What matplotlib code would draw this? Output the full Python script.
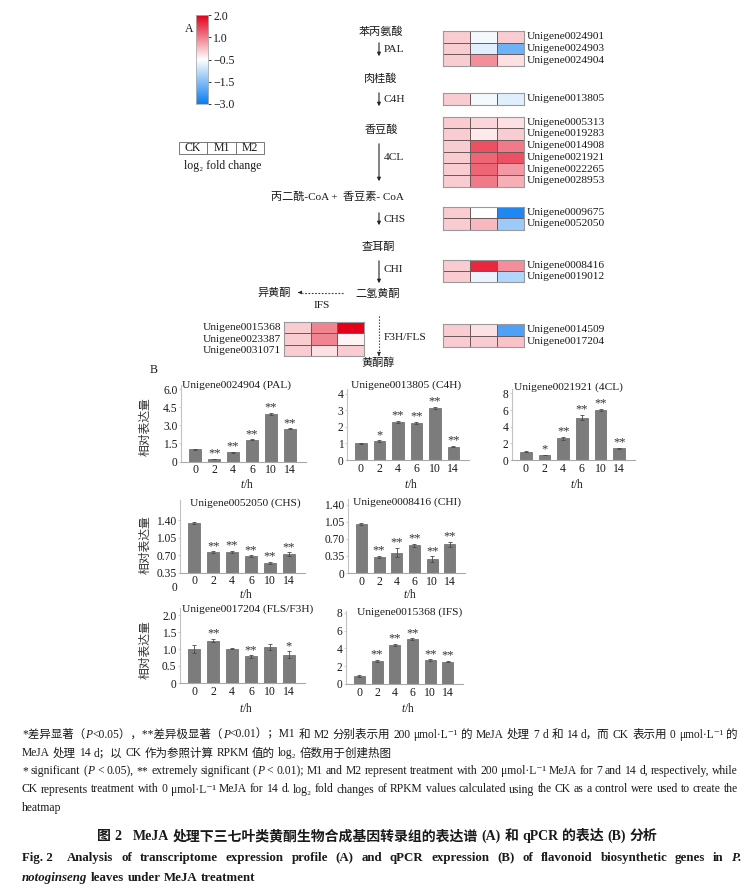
import numpy as np
import matplotlib
matplotlib.use('Agg')
import matplotlib.pyplot as plt
from matplotlib.colors import LinearSegmentedColormap, Normalize
from matplotlib.patches import Rectangle

FAM = ['Liberation Serif', 'DejaVu Serif', 'Noto Sans CJK SC']
plt.rcParams['font.family'] = FAM
plt.rcParams['mathtext.fontset'] = 'custom'
plt.rcParams['mathtext.rm'] = 'Liberation Serif'
plt.rcParams['mathtext.it'] = 'Liberation Serif:italic'
plt.rcParams['text.color'] = '#1a1a1a'
plt.rcParams['xtick.color'] = '#1a1a1a'
plt.rcParams['ytick.color'] = '#1a1a1a'

W, H = 754, 892

# ---------------- data: heatmap (log2 fold change vs CK) ----------------
samples = ['CK', 'M1', 'M2']
pal_genes = ['Unigene0024901', 'Unigene0024903', 'Unigene0024904']
pal_fc = [[0, -0.6, 0.0], [0, -0.8, -2.0], [0, 0.6, -0.2]]
c4h_genes = ['Unigene0013805']
c4h_fc = [[0, -0.6, -0.8]]
cl4_genes = ['Unigene0005313', 'Unigene0019283', 'Unigene0014908',
             'Unigene0021921', 'Unigene0022265', 'Unigene0028953']
cl4_fc = [[0, -0.1, -0.2], [0, -0.3, 0.0], [0, 1.2, 0.8],
          [0, 1.0, 1.2], [0, 1.0, 0.5], [0, 0.8, 0.3]]
chs_genes = ['Unigene0009675', 'Unigene0052050']
chs_fc = [[0, -0.5, -2.8], [0, 0.2, -1.5]]
chi_genes = ['Unigene0008416', 'Unigene0019012']
chi_fc = [[0, 1.6, 0.6], [0, -0.7, -1.3]]
fls_genes = ['Unigene0014509', 'Unigene0017204']
fls_fc = [[0, -0.2, -2.3], [0, 0.0, 0.1]]
ifs_genes = ['Unigene0015368', 'Unigene0023387', 'Unigene0031071']
ifs_fc = [[0, 0.7, 2.0], [0, 0.7, -0.4], [0, -0.2, 0.0]]

cbar_pos = [2, 0.75, -0.5, -1.75, -3]
cbar_lab = ['2.0', '1.0', '\u22120.5', '\u22121.5', '\u22123.0']

# ---------------- data: qPCR relative expression ----------------
hours = ['0', '2', '4', '6', '10', '14']
pal_q = [1.0, 0.2, 0.75, 1.8, 3.95, 2.7]
pal_e = [0.03, 0.03, 0.04, 0.05, 0.06, 0.05]
pal_s = ['', '**', '**', '**', '**', '**']
c4h_q = [1.0, 1.15, 2.3, 2.25, 3.15, 0.8]
c4h_e = [0.03, 0.04, 0.05, 0.06, 0.05, 0.04]
c4h_s = ['', '*', '**', '**', '**', '**']
cl4_q = [1.0, 0.6, 2.6, 5.1, 6.0, 1.4]
cl4_e = [0.05, 0.05, 0.2, 0.3, 0.15, 0.06]
cl4_s = ['', '*', '**', '**', '**', '**']
chs_q = [0.99, 0.41, 0.42, 0.33, 0.2, 0.37]
chs_e = [0.02, 0.02, 0.02, 0.02, 0.02, 0.04]
chs_s = ['', '**', '**', '**', '**', '**']
chi_q = [1.0, 0.33, 0.42, 0.57, 0.28, 0.59]
chi_e = [0.02, 0.02, 0.1, 0.03, 0.06, 0.05]
chi_s = ['', '**', '**', '**', '**', '**']
fls_q = [1.0, 1.25, 1.01, 0.78, 1.06, 0.83]
fls_e = [0.12, 0.05, 0.02, 0.03, 0.08, 0.1]
fls_s = ['', '**', '', '**', '', '*']
ifs_q = [0.9, 2.6, 4.4, 5.05, 2.7, 2.5]
ifs_e = [0.06, 0.1, 0.1, 0.08, 0.08, 0.08]
ifs_s = ['', '**', '**', '**', '**', '**']

# tick sets as printed in the figure
pal_ticks = ([0, 1.5, 3.0, 4.5, 6.0], ['0', '1.5', '3.0', '4.5', '6.0'])
c4h_ticks = ([0, 1, 2, 3, 4], ['0', '1', '2', '3', '4'])
cl4_ticks = ([0, 2, 4, 6, 8], ['0', '2', '4', '6', '8'])
chs_ticks = ([0, 0.35, 0.7, 1.05], ['0.35', '0.70', '1.05', '1.40'])
chi_ticks = ([0, 0.35, 0.7, 1.05, 1.4], ['0', '0.35', '0.70', '1.05', '1.40'])
fls_ticks = ([0, 0.5, 1.0, 1.5, 2.0], ['0', '0.5', '1.0', '1.5', '2.0'])
ifs_ticks = ([0, 2, 4, 6, 8], ['0', '2', '4', '6', '8'])

cmap = LinearSegmentedColormap.from_list('rb', ['#0a7ef2', '#ffffff', '#e3001b'])
norm = Normalize(-3, 2)

fig = plt.figure(figsize=(W / 100, H / 100), dpi=100)


def rect(x0, y0, x1, y1):
    return [x0 / W, 1 - y1 / H, (x1 - x0) / W, (y1 - y0) / H]


ov = fig.add_axes([0, 0, 1, 1], zorder=5)
ov.set_xlim(0, W)
ov.set_ylim(H, 0)
ov.axis('off')
ov.patch.set_alpha(0)


def heat(box, fc, genes, side='right'):
    ax = fig.add_axes(rect(*box))
    ax.pcolormesh(np.array(fc), cmap=cmap, norm=norm, edgecolors='#6e5a5a', linewidth=0.6)
    ax.set_ylim(len(fc), 0)
    ax.set_xticks([])
    ax.set_yticks([])
    for sp in ax.spines.values():
        sp.set_color('#9a9a9a')
        sp.set_linewidth(0.8)
    x0, y0, x1, y1 = box
    rh = (y1 - y0) / len(genes)
    for i, g in enumerate(genes):
        if side == 'right':
            ov.text(x1 + 3, y0 + rh * (i + 0.5), g, fontsize=8.2, ha='left', va='center')
        else:
            ov.text(x0 - 3, y0 + rh * (i + 0.5), g, fontsize=8.2, ha='right', va='center')


heat((443, 31, 524, 66), pal_fc, pal_genes)
heat((443, 93, 524, 104.5), c4h_fc, c4h_genes)
heat((443, 116.5, 524, 186.5), cl4_fc, cl4_genes)
heat((443, 207, 524, 229.5), chs_fc, chs_genes)
heat((443, 260, 524, 282), chi_fc, chi_genes)
heat((443, 324, 524, 347), fls_fc, fls_genes)
heat((284, 322, 364, 356), ifs_fc, ifs_genes, side='left')

# colour bar
cax = fig.add_axes(rect(195.7, 15, 208.3, 104))
grad = np.linspace(2, -3, 200).reshape(-1, 1)
cax.imshow(grad, cmap=cmap, norm=norm, aspect='auto', extent=(0, 1, -3, 2))
cax.set_xticks([])
cax.yaxis.tick_right()
cax.set_yticks(cbar_pos, cbar_lab, fontsize=8.5)
cax.tick_params(axis='y', length=2.5, width=0.6, pad=1)
for sp in cax.spines.values():
    sp.set_color('#b0b0b0')
    sp.set_linewidth(0.6)
ov.text(189, 29, 'A', fontsize=8.5, ha='center', va='center')

# CK / M1 / M2 legend box
for i, s in enumerate(samples):
    ov.add_patch(Rectangle((179 + 28.3 * i, 142), 28.3, 12, fill=False, ec='#777777', lw=0.7))
    ov.text(179 + 28.3 * (i + 0.5), 148.3, s, fontsize=8.5, ha='center', va='center')
ov.text(223, 166, 'log\u2082 fold change', fontsize=8.5, ha='center', va='center')

# pathway
AX = 379
compounds = [('苯丙氨酸', 381, 32), ('肉桂酸', 381, 79), ('香豆酸', 381, 130),
             ('丙二酰-CoA +  香豆素- CoA', 337, 197), ('查耳酮', 378, 247),
             ('二氢黄酮', 378, 294), ('异黄酮', 274, 293), ('黄酮醇', 378, 363)]
for t, x, y in compounds:
    ov.text(x, y, t, fontsize=8, ha='center', va='center')

enz = [('PAL', 40, 59, 50), ('C4H', 90, 109, 99), ('4CL', 141, 184, 157),
       ('CHS', 210, 228, 219), ('CHI', 258, 286, 270)]
for name, ya, yb, yt in enz:
    ov.annotate('', xy=(AX, yb), xytext=(AX, ya),
                arrowprops=dict(arrowstyle='-|>', lw=0.8, color='#222222', mutation_scale=5))
    ov.text(AX + 5, yt, name, fontsize=8.2, ha='left', va='center')

ov.plot([343, 302], [292.5, 292.5], ls=(0, (1.5, 1.5)), lw=0.8, color='#333333')
ov.annotate('', xy=(298, 292.5), xytext=(302, 292.5),
            arrowprops=dict(arrowstyle='-|>', lw=0.6, color='#222222', mutation_scale=5))
ov.text(322, 306, 'IFS', fontsize=8.2, ha='center', va='center')
ov.plot([AX, AX], [316, 352], ls=(0, (1.2, 1.5)), lw=0.8, color='#333333')
ov.annotate('', xy=(AX, 356), xytext=(AX, 352),
            arrowprops=dict(arrowstyle='-|>', lw=0.6, color='#222222', mutation_scale=5))
ov.text(AX + 5, 337, 'F3H/FLS', fontsize=8.2, ha='left', va='center')

# ---------------- qPCR bars ----------------
ov.text(154, 370, 'B', fontsize=8.5, ha='center', va='center')


def bar_panel(box, ylim, vals, errs, stars, ticks, title, txy, xl_y):
    ax = fig.add_axes(rect(*box))
    x = np.arange(len(hours))
    ax.bar(x, vals, width=0.62, color='#7c7c7c', edgecolor='#666666', linewidth=0.5,
           yerr=errs, error_kw=dict(ecolor='#4a4a4a', elinewidth=0.6, capsize=1.5, capthick=0.6))
    for xi, v, e, s in zip(x, vals, errs, stars):
        if s:
            ax.annotate(s, (xi, v + e), xytext=(0, -0.5), textcoords='offset points',
                        ha='center', va='bottom', fontsize=9, color='#333333')
    ax.set_xlim(-0.75, 5.85)
    ax.set_ylim(*ylim)
    ax.set_xticks(x, hours, fontsize=8.5)
    ax.set_yticks(ticks[0], ticks[1], fontsize=8.3)
    ax.tick_params(axis='x', length=0, pad=2)
    ax.tick_params(axis='y', length=1.5, width=0.5, pad=1, color='#bbbbbb')
    ax.patch.set_alpha(0)
    for k in ('top', 'right'):
        ax.spines[k].set_visible(False)
    ax.spines['left'].set_color('#c2c2c2')
    ax.spines['left'].set_linewidth(0.8)
    ax.spines['bottom'].set_color('#a8a8a8')
    ax.spines['bottom'].set_linewidth(0.8)
    ov.text(txy[0], txy[1], title, fontsize=8.2, ha='center', va='center')
    cx = (box[0] + box[2]) / 2 + 3
    ov.text(cx, xl_y, '$t$/h', fontsize=8.3, ha='center', va='center')
    return ax


bar_panel((181, 385.4, 306, 461.5), (0, 6.3), pal_q, pal_e, pal_s, pal_ticks,
          'Unigene0024904 (PAL)', (237, 385), 485)
bar_panel((347, 388.6, 469, 460), (0, 4.3), c4h_q, c4h_e, c4h_s, c4h_ticks,
          'Unigene0013805 (C4H)', (406, 385), 485)
bar_panel((512, 389.2, 635, 460), (0, 8.5), cl4_q, cl4_e, cl4_s, cl4_ticks,
          'Unigene0021921 (4CL)', (568, 386.7), 485)
bar_panel((180, 500.2, 305, 572.7), (0, 1.45), chs_q, chs_e, chs_s, chs_ticks,
          'Unigene0052050 (CHS)', (245, 503.3), 594)
ov.text(177, 588.3, '0', fontsize=8.3, ha='right', va='center')
bar_panel((348, 499, 465, 573), (0, 1.52), chi_q, chi_e, chi_s, chi_ticks,
          'Unigene0008416 (CHI)', (406.7, 501.7), 594)
bar_panel((180, 608.2, 305, 683), (0, 2.2), fls_q, fls_e, fls_s, fls_ticks,
          'Unigene0017204 (FLS/F3H)', (248, 609.3), 708)
bar_panel((346, 611, 463, 684), (0, 8.2), ifs_q, ifs_e, ifs_s, ifs_ticks,
          'Unigene0015368 (IFS)', (410, 611.7), 708)

for y in (427, 545, 650):
    ov.text(145, y, '相对表达量', fontsize=8.5, rotation=90, ha='center', va='center', color='#333333')

# ---------------- captions ----------------
renderer = fig.canvas.get_renderer()


def put_line(s, y, x0=22, x1=None, size=8.4, weight='normal', center=None):
    # y is the visual middle of the line; words placed on a common baseline
    yb = y + 0.36 * size * 100 / 72
    words = []
    it = False
    for w in s.split(' '):
        segs = []
        for k, p in enumerate(w.split('|')):
            if k > 0:
                it = not it
            if p:
                t = ov.text(0, yb, p, fontsize=size, weight=weight,
                            style='italic' if it else 'normal', ha='left', va='baseline')
                segs.append((t, t.get_window_extent(renderer).width))
        words.append(segs)
    widths = [sum(w for _, w in segs) for segs in words]
    gap = 0.27 * size * 100 / 72
    if x1 is not None:
        gap = max(gap * 0.8, (x1 - x0 - sum(widths)) / (len(words) - 1))
    if center is not None:
        x0 = center - (sum(widths) + gap * (len(words) - 1)) / 2
    x = x0
    for segs in words:
        for t, w in segs:
            t.set_x(x)
            x += w
        x += gap


put_line('*差异显著（|P|<0.05），**差异极显著（|P|<0.01）；M1 和 M2 分别表示用 200 μmol·L\u207b\u00b9 的 '
         'MeJA 处理 7 d 和 14 d，而 CK 表示用 0 μmol·L\u207b\u00b9 的', 733.5, x1=738, size=8.3)
put_line('MeJA 处理 14 d；以 CK 作为参照计算 RPKM 值的 log\u2082 倍数用于创建热图', 752.3, size=8.3)
put_line('* significant (|P| < 0.05), ** extremely significant (|P| < 0.01); M1 and M2 represent treatment '
         'with 200 μmol·L\u207b\u00b9 MeJA for 7 and 14 d, respectively, while', 770, x1=738)
put_line('CK represents treatment with 0 μmol·L\u207b\u00b9 MeJA for 14 d. log\u2082 fold changes of RPKM '
         'values calculated using the CK as a control were used to create the', 788.3, x1=738)
put_line('heatmap', 806.7)
put_line('图 2   MeJA 处理下三七叶类黄酮生物合成基因转录组的表达谱 (A) 和 qPCR 的表达 (B) 分析',
         835, size=10, weight='bold', center=377)
put_line('Fig.\u00a02\u00a0\u00a0 Analysis of transcriptome expression profile (A) and qPCR expression (B) of '
         'flavonoid biosynthetic genes in |P.|', 856.7, x1=741, size=9.3, weight='bold')
put_line('|notoginseng| leaves under MeJA treatment', 876.7, size=9.3, weight='bold')

fig.savefig('out.png', dpi=100)
